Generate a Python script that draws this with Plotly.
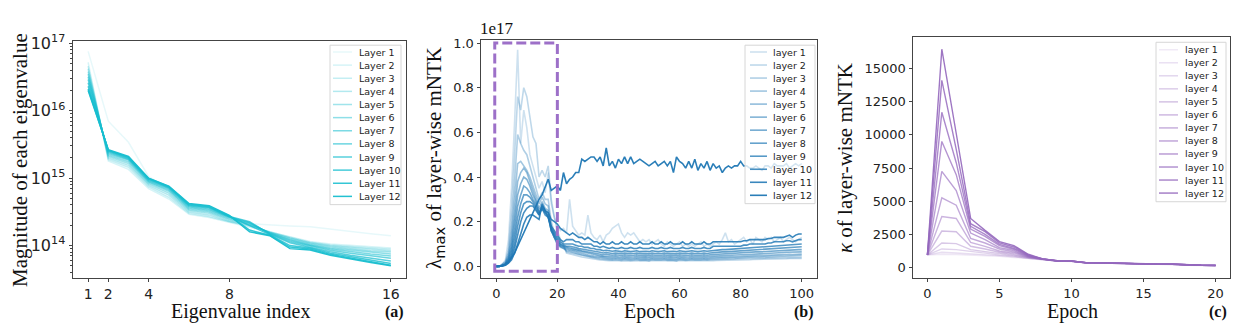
import plotly.graph_objects as go

# page body has a default 8px margin: the figure is sized to fit the window
OFF = 8
W, H = 1242 - OFF, 332 - OFF

# ---------------- data ----------------
layers = [f"Layer {i}" for i in range(1, 13)]
layers_lc = [f"layer {i}" for i in range(1, 13)]

# (a) eigenvalue spectra, index 1..16
eig_index = list(range(1, 17))
eig_L1 = [7.6e16, 7.0e15, 3.4e15, 1.05e15, 7.0e14, 3.8e14, 3.2e14, 2.5e14, 2.1e14, 2.0e14, 1.95e14, 1.9e14, 1.75e14, 1.6e14, 1.5e14, 1.4e14]
eig_L2 = [5.2e16, 1.8e15, 1.35e15, 7.0e14, 4.9e14, 2.9e14, 2.6e14, 2.2e14, 1.9e14, 1.6e14, 1.35e14, 1.15e14, 1.05e14, 1.0e14, 9.6e13, 9.2e13]
eig_L3 = [4.6e16, 1.9e15, 1.45e15, 7.4e14, 5.2e14, 3.0e14, 2.7e14, 2.25e14, 1.95e14, 1.6e14, 1.33e14, 1.12e14, 1.02e14, 9.7e13, 9.2e13, 8.8e13]
eig_L4 = [4.2e16, 2.0e15, 1.55e15, 7.8e14, 5.6e14, 3.15e14, 2.85e14, 2.3e14, 2.0e14, 1.58e14, 1.3e14, 1.1e14, 9.9e13, 9.3e13, 8.8e13, 8.4e13]
eig_L5 = [3.8e16, 2.1e15, 1.65e15, 8.2e14, 6.0e14, 3.3e14, 3.0e14, 2.4e14, 2.05e14, 1.56e14, 1.27e14, 1.07e14, 9.6e13, 8.9e13, 8.4e13, 8.0e13]
eig_L6 = [3.5e16, 2.2e15, 1.75e15, 8.6e14, 6.4e14, 3.45e14, 3.15e14, 2.5e14, 2.1e14, 1.54e14, 1.23e14, 1.04e14, 9.2e13, 8.5e13, 8.0e13, 7.5e13]
eig_L7 = [3.2e16, 2.3e15, 1.85e15, 8.9e14, 6.7e14, 3.6e14, 3.3e14, 2.6e14, 2.15e14, 1.52e14, 1.2e14, 1.01e14, 8.9e13, 8.1e13, 7.5e13, 7.0e13]
eig_L8 = [2.9e16, 2.4e15, 1.9e15, 9.2e14, 7.0e14, 3.75e14, 3.45e14, 2.65e14, 2.2e14, 1.5e14, 1.15e14, 9.8e13, 8.5e13, 7.7e13, 7.0e13, 6.5e13]
eig_L9 = [2.6e16, 2.5e15, 1.95e15, 9.5e14, 7.2e14, 3.9e14, 3.6e14, 2.7e14, 2.25e14, 1.48e14, 1.1e14, 9.5e13, 8.1e13, 7.2e13, 6.5e13, 5.9e13]
eig_L10 = [2.3e16, 2.55e15, 2.0e15, 9.7e14, 7.4e14, 4.0e14, 3.7e14, 2.7e14, 2.0e14, 1.45e14, 1.0e14, 9.2e13, 7.7e13, 6.8e13, 6.0e13, 5.4e13]
eig_L11 = [2.1e16, 2.6e15, 2.05e15, 9.9e14, 7.5e14, 4.1e14, 3.8e14, 2.75e14, 1.7e14, 1.42e14, 9.5e13, 8.9e13, 7.4e13, 6.5e13, 5.7e13, 5.1e13]
eig_L12 = [2.0e16, 2.65e15, 2.1e15, 1.0e15, 7.6e14, 4.2e14, 3.9e14, 2.8e14, 1.6e14, 1.4e14, 9.0e13, 8.6e13, 7.2e13, 6.3e13, 5.6e13, 5.0e13]
eig_all = [eig_L1, eig_L2, eig_L3, eig_L4, eig_L5, eig_L6, eig_L7, eig_L8, eig_L9, eig_L10, eig_L11, eig_L12]

# (b) lambda_max per epoch (units of 1e17), epochs 0..100
lam_L1 = [0, 0, 0.01, 0.03, 0.12, 0.35, 0.65, 0.97, 0.55, 0.70, 0.62, 0.50, 0.45, 0.40, 0.35, 0.38, 0.33, 0.42, 0.28, 0.22, 0.18, 0.16, 0.17,
          0.15, 0.30, 0.18, 0.16, 0.14, 0.15, 0.14, 0.23, 0.15, 0.13, 0.12, 0.14, 0.11, 0.14, 0.15, 0.17, 0.18, 0.19, 0.15, 0.13, 0.15, 0.14, 0.15,
          0.13, 0.11, 0.12, 0.11, 0.12, 0.10, 0.11, 0.12, 0.10, 0.09, 0.11, 0.10, 0.09, 0.10, 0.11, 0.09, 0.10, 0.09, 0.10, 0.09, 0.10, 0.11, 0.09,
          0.10, 0.09, 0.10, 0.11, 0.10, 0.12, 0.15, 0.11, 0.12, 0.10, 0.11, 0.12, 0.13, 0.11, 0.12, 0.10, 0.13, 0.12, 0.11, 0.13, 0.12, 0.13, 0.11,
          0.12, 0.13, 0.11, 0.12, 0.13, 0.12, 0.11, 0.12, 0.13]
lam_L2 = [0, 0, 0.01, 0.02, 0.08, 0.25, 0.50, 0.76, 0.70, 0.80, 0.76, 0.66, 0.58, 0.55, 0.40, 0.43, 0.40, 0.45, 0.30, 0.22, 0.16, 0.12, 0.10,
          0.06, 0.056, 0.052, 0.048, 0.045, 0.042, 0.04, 0.037, 0.035, 0.033, 0.031, 0.029, 0.027, 0.028, 0.026, 0.025, 0.026, 0.025, 0.024, 0.026,
          0.025, 0.024, 0.025, 0.026, 0.024, 0.025, 0.025, 0.023, 0.026, 0.025, 0.024, 0.025, 0.026, 0.024, 0.025, 0.025, 0.023, 0.026, 0.025, 0.024,
          0.025, 0.026, 0.025, 0.024, 0.025, 0.026, 0.025, 0.026, 0.026, 0.027, 0.027, 0.027, 0.028, 0.028, 0.028, 0.029, 0.029, 0.029, 0.03, 0.03,
          0.03, 0.031, 0.031, 0.031, 0.032, 0.032, 0.032, 0.033, 0.033, 0.033, 0.034, 0.034, 0.034, 0.035, 0.034, 0.035, 0.035, 0.035]
lam_L3 = [0, 0, 0.01, 0.02, 0.06, 0.18, 0.38, 0.59, 0.55, 0.52, 0.50, 0.45, 0.40, 0.36, 0.30, 0.33, 0.30, 0.30, 0.20, 0.15, 0.12, 0.10, 0.09,
          0.065, 0.062, 0.058, 0.054, 0.05, 0.047, 0.044, 0.041, 0.039, 0.037, 0.035, 0.033, 0.031, 0.032, 0.03, 0.028, 0.03, 0.028, 0.027, 0.03,
          0.028, 0.027, 0.028, 0.03, 0.027, 0.028, 0.028, 0.026, 0.03, 0.028, 0.027, 0.028, 0.03, 0.027, 0.028, 0.028, 0.026, 0.03, 0.028, 0.027,
          0.028, 0.03, 0.028, 0.027, 0.028, 0.03, 0.028, 0.03, 0.03, 0.031, 0.031, 0.032, 0.032, 0.032, 0.033, 0.033, 0.034, 0.034, 0.034, 0.035,
          0.035, 0.036, 0.036, 0.036, 0.037, 0.037, 0.038, 0.038, 0.038, 0.039, 0.039, 0.039, 0.04, 0.04, 0.039, 0.04, 0.04, 0.04]
lam_L4 = [0, 0, 0.005, 0.015, 0.05, 0.14, 0.30, 0.46, 0.47, 0.45, 0.43, 0.40, 0.36, 0.33, 0.28, 0.31, 0.28, 0.27, 0.18, 0.14, 0.11, 0.09, 0.08,
          0.07, 0.068, 0.065, 0.06, 0.056, 0.052, 0.048, 0.045, 0.043, 0.041, 0.039, 0.037, 0.035, 0.036, 0.034, 0.032, 0.034, 0.032, 0.031, 0.034,
          0.032, 0.031, 0.032, 0.034, 0.031, 0.032, 0.032, 0.03, 0.034, 0.032, 0.031, 0.032, 0.034, 0.031, 0.032, 0.032, 0.03, 0.034, 0.032, 0.031,
          0.032, 0.034, 0.032, 0.031, 0.032, 0.034, 0.032, 0.034, 0.035, 0.035, 0.036, 0.036, 0.037, 0.037, 0.038, 0.038, 0.039, 0.039, 0.04, 0.04,
          0.041, 0.041, 0.042, 0.042, 0.043, 0.043, 0.044, 0.044, 0.045, 0.045, 0.046, 0.046, 0.047, 0.047, 0.046, 0.047, 0.048, 0.048]
lam_L5 = [0, 0, 0.005, 0.012, 0.04, 0.11, 0.24, 0.38, 0.42, 0.44, 0.42, 0.38, 0.34, 0.31, 0.26, 0.29, 0.26, 0.25, 0.17, 0.13, 0.10, 0.085, 0.08,
          0.075, 0.072, 0.07, 0.066, 0.062, 0.058, 0.054, 0.051, 0.048, 0.046, 0.044, 0.042, 0.04, 0.041, 0.039, 0.037, 0.039, 0.037, 0.036, 0.039,
          0.037, 0.036, 0.037, 0.039, 0.036, 0.037, 0.037, 0.035, 0.039, 0.037, 0.036, 0.037, 0.039, 0.036, 0.037, 0.037, 0.035, 0.039, 0.037, 0.036,
          0.037, 0.039, 0.037, 0.036, 0.037, 0.039, 0.037, 0.039, 0.04, 0.04, 0.041, 0.041, 0.042, 0.042, 0.043, 0.043, 0.044, 0.044, 0.045, 0.045,
          0.046, 0.047, 0.047, 0.048, 0.048, 0.049, 0.05, 0.05, 0.051, 0.051, 0.052, 0.052, 0.053, 0.054, 0.053, 0.054, 0.055, 0.055]
lam_L6 = [0, 0, 0.004, 0.01, 0.035, 0.09, 0.20, 0.32, 0.37, 0.40, 0.39, 0.36, 0.32, 0.29, 0.25, 0.27, 0.25, 0.24, 0.16, 0.13, 0.10, 0.09, 0.085,
          0.08, 0.078, 0.075, 0.072, 0.068, 0.064, 0.06, 0.057, 0.055, 0.052, 0.05, 0.048, 0.046, 0.047, 0.045, 0.043, 0.045, 0.043, 0.042, 0.045,
          0.043, 0.042, 0.043, 0.045, 0.042, 0.043, 0.043, 0.041, 0.045, 0.043, 0.042, 0.043, 0.045, 0.042, 0.043, 0.043, 0.041, 0.045, 0.043, 0.042,
          0.043, 0.045, 0.043, 0.042, 0.043, 0.045, 0.043, 0.045, 0.046, 0.047, 0.047, 0.048, 0.048, 0.049, 0.05, 0.05, 0.051, 0.052, 0.052, 0.053,
          0.054, 0.055, 0.056, 0.056, 0.057, 0.058, 0.059, 0.059, 0.06, 0.061, 0.061, 0.062, 0.063, 0.064, 0.063, 0.064, 0.065, 0.065]
lam_L7 = [0, 0, 0.004, 0.01, 0.03, 0.075, 0.16, 0.27, 0.32, 0.36, 0.35, 0.33, 0.30, 0.28, 0.24, 0.26, 0.24, 0.23, 0.16, 0.13, 0.11, 0.095, 0.09,
          0.085, 0.083, 0.08, 0.078, 0.074, 0.07, 0.067, 0.064, 0.062, 0.06, 0.057, 0.055, 0.052, 0.054, 0.052, 0.05, 0.052, 0.05, 0.049, 0.052,
          0.05, 0.049, 0.05, 0.052, 0.049, 0.05, 0.05, 0.048, 0.052, 0.05, 0.049, 0.05, 0.052, 0.049, 0.05, 0.05, 0.048, 0.052, 0.05, 0.049,
          0.05, 0.052, 0.05, 0.049, 0.05, 0.052, 0.05, 0.052, 0.053, 0.054, 0.055, 0.056, 0.056, 0.057, 0.058, 0.058, 0.059, 0.06, 0.06, 0.062,
          0.063, 0.064, 0.065, 0.065, 0.066, 0.067, 0.068, 0.068, 0.069, 0.07, 0.071, 0.072, 0.073, 0.074, 0.073, 0.074, 0.075, 0.075]
lam_L8 = [0, 0, 0.003, 0.008, 0.025, 0.06, 0.13, 0.22, 0.28, 0.32, 0.32, 0.31, 0.29, 0.27, 0.24, 0.26, 0.24, 0.22, 0.16, 0.14, 0.12, 0.10, 0.095,
          0.09, 0.09, 0.088, 0.085, 0.08, 0.078, 0.075, 0.072, 0.07, 0.068, 0.065, 0.063, 0.06, 0.062, 0.06, 0.058, 0.06, 0.058, 0.057, 0.06,
          0.058, 0.057, 0.058, 0.06, 0.057, 0.058, 0.058, 0.056, 0.06, 0.058, 0.057, 0.058, 0.06, 0.057, 0.058, 0.058, 0.056, 0.06, 0.058, 0.057,
          0.058, 0.06, 0.058, 0.057, 0.058, 0.06, 0.058, 0.06, 0.062, 0.063, 0.064, 0.065, 0.065, 0.066, 0.067, 0.068, 0.068, 0.07, 0.07, 0.072,
          0.073, 0.074, 0.075, 0.076, 0.077, 0.078, 0.079, 0.08, 0.081, 0.082, 0.083, 0.084, 0.085, 0.086, 0.085, 0.087, 0.088, 0.088]
lam_L9 = [0, 0, 0.003, 0.007, 0.02, 0.05, 0.10, 0.18, 0.24, 0.28, 0.29, 0.29, 0.28, 0.26, 0.23, 0.26, 0.23, 0.22, 0.17, 0.15, 0.13, 0.11, 0.10,
          0.10, 0.10, 0.10, 0.095, 0.09, 0.09, 0.085, 0.085, 0.08, 0.08, 0.075, 0.075, 0.07, 0.072, 0.07, 0.068, 0.07, 0.068, 0.066, 0.07,
          0.068, 0.066, 0.068, 0.07, 0.066, 0.068, 0.068, 0.066, 0.07, 0.068, 0.066, 0.068, 0.07, 0.066, 0.068, 0.068, 0.066, 0.07, 0.068, 0.066,
          0.068, 0.07, 0.068, 0.066, 0.068, 0.07, 0.068, 0.07, 0.072, 0.074, 0.074, 0.075, 0.075, 0.076, 0.077, 0.078, 0.078, 0.08, 0.08, 0.082,
          0.083, 0.084, 0.085, 0.086, 0.087, 0.088, 0.09, 0.09, 0.092, 0.093, 0.094, 0.095, 0.096, 0.097, 0.096, 0.098, 0.10, 0.10]
lam_L10 = [0, 0, 0.002, 0.006, 0.018, 0.04, 0.08, 0.14, 0.20, 0.24, 0.26, 0.27, 0.27, 0.25, 0.23, 0.27, 0.25, 0.22, 0.18, 0.16, 0.14, 0.12, 0.11,
           0.12, 0.12, 0.12, 0.11, 0.11, 0.10, 0.10, 0.10, 0.10, 0.09, 0.09, 0.085, 0.09, 0.085, 0.08, 0.085, 0.08, 0.08, 0.085, 0.08,
           0.08, 0.085, 0.08, 0.08, 0.085, 0.08, 0.08, 0.08, 0.085, 0.08, 0.08, 0.085, 0.08, 0.08, 0.085, 0.08, 0.08, 0.08, 0.085, 0.08,
           0.08, 0.085, 0.08, 0.08, 0.08, 0.085, 0.08, 0.08, 0.09, 0.09, 0.09, 0.09, 0.09, 0.09, 0.09, 0.09, 0.09, 0.09, 0.095, 0.095,
           0.10, 0.10, 0.10, 0.10, 0.10, 0.10, 0.105, 0.105, 0.11, 0.11, 0.11, 0.11, 0.115, 0.115, 0.11, 0.115, 0.12, 0.12]
lam_L11 = [0, 0, 0.002, 0.005, 0.015, 0.03, 0.06, 0.10, 0.15, 0.19, 0.22, 0.23, 0.23, 0.22, 0.21, 0.28, 0.25, 0.24, 0.21, 0.20, 0.19, 0.17, 0.16,
           0.15, 0.14, 0.15, 0.14, 0.13, 0.13, 0.12, 0.13, 0.12, 0.11, 0.11, 0.10, 0.11, 0.10, 0.10, 0.11, 0.10, 0.10, 0.11, 0.10,
           0.10, 0.11, 0.10, 0.10, 0.11, 0.10, 0.10, 0.10, 0.11, 0.10, 0.10, 0.11, 0.10, 0.10, 0.11, 0.10, 0.10, 0.10, 0.11, 0.10,
           0.10, 0.11, 0.10, 0.10, 0.10, 0.11, 0.10, 0.10, 0.11, 0.11, 0.11, 0.11, 0.11, 0.11, 0.11, 0.11, 0.11, 0.11, 0.115, 0.115,
           0.12, 0.12, 0.12, 0.12, 0.12, 0.12, 0.125, 0.125, 0.13, 0.13, 0.13, 0.13, 0.135, 0.14, 0.13, 0.14, 0.145, 0.145]
lam_L12 = [0, 0, 0.005, 0.01, 0.02, 0.04, 0.06, 0.09, 0.12, 0.15, 0.18, 0.21, 0.24, 0.27, 0.30, 0.32, 0.36, 0.39, 0.34, 0.35, 0.36, 0.34, 0.42,
           0.37, 0.39, 0.40, 0.42, 0.42, 0.48, 0.47, 0.48, 0.49, 0.49, 0.47, 0.49, 0.45, 0.53, 0.45, 0.47, 0.44, 0.48, 0.46, 0.49, 0.46, 0.49,
           0.46, 0.47, 0.48, 0.47, 0.46, 0.45, 0.46, 0.47, 0.45, 0.46, 0.47, 0.45, 0.47, 0.42, 0.49, 0.47, 0.46, 0.44, 0.47, 0.44, 0.48, 0.43,
           0.46, 0.44, 0.47, 0.43, 0.46, 0.44, 0.45, 0.42, 0.44, 0.45, 0.44, 0.45, 0.45, 0.47, 0.45, 0.45, 0.44, 0.44, 0.45, 0.44, 0.43, 0.45,
           0.45, 0.44, 0.46, 0.45, 0.45, 0.45, 0.46, 0.44, 0.45, 0.46, 0.45, 0.46]
lam_all = [lam_L1, lam_L2, lam_L3, lam_L4, lam_L5, lam_L6, lam_L7, lam_L8, lam_L9, lam_L10, lam_L11, lam_L12]
highlight_epochs = [-0.5, 20]
highlight_lam = [-0.022, 1.0]

# (c) kappa per epoch, epochs 0..20
kap_L1 = [950, 1000, 980, 950, 900, 850, 760, 660, 600, 480, 460, 340, 330, 300, 280, 260, 240, 240, 170, 160, 150]
kap_L2 = [950, 1150, 1100, 1050, 980, 900, 800, 680, 605, 485, 465, 345, 335, 305, 282, 262, 242, 242, 172, 162, 152]
kap_L3 = [950, 1400, 1350, 1200, 1080, 950, 860, 700, 610, 490, 470, 350, 338, 308, 284, 264, 244, 244, 174, 163, 153]
kap_L4 = [950, 1850, 1800, 1350, 1200, 1050, 920, 730, 615, 492, 472, 352, 340, 310, 286, 266, 246, 246, 176, 164, 154]
kap_L5 = [950, 2750, 2700, 1600, 1400, 1150, 1000, 760, 620, 495, 475, 355, 343, 312, 288, 268, 248, 248, 178, 165, 155]
kap_L6 = [950, 3850, 3700, 1900, 1600, 1250, 1100, 790, 625, 498, 478, 358, 345, 314, 290, 270, 250, 250, 180, 166, 156]
kap_L7 = [950, 5250, 4700, 2200, 1850, 1400, 1180, 820, 630, 500, 480, 360, 348, 316, 292, 272, 252, 252, 182, 167, 157]
kap_L8 = [950, 7250, 5800, 2600, 2100, 1500, 1280, 850, 635, 502, 483, 362, 350, 318, 294, 274, 254, 254, 184, 168, 158]
kap_L9 = [950, 9500, 7000, 2900, 2350, 1650, 1380, 880, 640, 505, 486, 365, 352, 320, 296, 276, 256, 256, 186, 169, 159]
kap_L10 = [950, 11700, 7900, 3100, 2500, 1750, 1450, 920, 645, 508, 490, 368, 355, 322, 298, 278, 258, 258, 188, 170, 160]
kap_L11 = [950, 14100, 8900, 3300, 2700, 1850, 1550, 950, 650, 510, 493, 370, 358, 324, 300, 280, 260, 260, 190, 171, 161]
kap_L12 = [950, 16450, 10100, 3700, 2800, 1950, 1650, 1000, 655, 512, 496, 372, 360, 326, 302, 282, 262, 262, 192, 172, 162]
kap_all = [kap_L1, kap_L2, kap_L3, kap_L4, kap_L5, kap_L6, kap_L7, kap_L8, kap_L9, kap_L10, kap_L11, kap_L12]

# ---------------- styling helpers ----------------
def P(px):
    return (px - OFF) / W

def Q(py):
    return 1 - (py - OFF) / H

def rgba(rgb, a):
    return f"rgba({rgb[0]},{rgb[1]},{rgb[2]},{a:.3f})"

CYAN = (23, 190, 207)
BLUE = (31, 119, 180)
PURP = (148, 103, 189)

def alphas(lo, hi):
    return [lo + (hi - lo) * i / 11 for i in range(12)]

a_alpha = alphas(0.10, 0.95)
b_alpha = alphas(0.22, 0.95)
c_alpha = alphas(0.15, 0.90)

fig = go.Figure()

for i, vals in enumerate(eig_all):
    fig.add_trace(go.Scatter(x=eig_index, y=vals, mode="lines", name=layers[i],
                             line=dict(color=rgba(CYAN, a_alpha[i]), width=1.5),
                             xaxis="x", yaxis="y", showlegend=False))
for i, vals in enumerate(lam_all):
    fig.add_trace(go.Scatter(x=list(range(len(vals))), y=vals, mode="lines", name=layers_lc[i],
                             line=dict(color=rgba(BLUE, b_alpha[i]), width=1.6),
                             xaxis="x2", yaxis="y2", showlegend=False))
for i, vals in enumerate(kap_all):
    fig.add_trace(go.Scatter(x=list(range(len(vals))), y=vals, mode="lines", name=layers_lc[i],
                             line=dict(color=rgba(PURP, c_alpha[i]), width=1.4),
                             xaxis="x3", yaxis="y3", showlegend=False))

TICKFONT = dict(family="DejaVu Sans", size=13, color="#222")
common = dict(showline=True, linecolor="#444", linewidth=1, mirror=True, ticks="outside",
              ticklen=3.5, tickcolor="#444", showgrid=False, zeroline=False)

minor_log = [k * 10 ** e for e in range(13, 17) for k in range(2, 10)]

fig.update_layout(
    width=W, height=H, autosize=False,
    margin=dict(l=0, r=0, t=0, b=0),
    paper_bgcolor="white", plot_bgcolor="white",
    xaxis=dict(domain=[P(73), P(406)], anchor="y", range=[0.25, 16.75],
               tickvals=[1, 2, 4, 8, 16], tickfont=dict(family="DejaVu Sans", size=14, color="#222"), **common),
    yaxis=dict(domain=[Q(276), Q(33)], anchor="x", type="log", range=[13.525, 17.03],
               tickvals=[1e14, 1e15, 1e16, 1e17],
               ticktext=["10<sup>14</sup>", "10<sup>15</sup>", "10<sup>16</sup>", "10<sup>17</sup>"],
               tickfont=dict(family="DejaVu Sans", size=16, color="#222"),
               minor=dict(ticks="outside", ticklen=2, tickcolor="#444", tickvals=minor_log),
               **common),
    xaxis2=dict(domain=[P(481), P(817)], anchor="y2", range=[-5, 105],
                tickvals=[0, 20, 40, 60, 80, 100], tickfont=TICKFONT, **common),
    yaxis2=dict(domain=[Q(276), Q(32)], anchor="x2", range=[-0.05, 1.012],
                tickvals=[0, 0.2, 0.4, 0.6, 0.8, 1.0],
                ticktext=["0.0", "0.2", "0.4", "0.6", "0.8", "1.0"], tickfont=TICKFONT, **common),
    xaxis3=dict(domain=[P(913), P(1230)], anchor="y3", range=[-1, 21],
                tickvals=[0, 5, 10, 15, 20], tickfont=TICKFONT, **common),
    yaxis3=dict(domain=[Q(276), Q(29)], anchor="x3", range=[-755, 17340],
                tickvals=[0, 2500, 5000, 7500, 10000, 12500, 15000],
                ticktext=["0", "2500", "5000", "7500", "10000", "12500", "15000"], tickfont=TICKFONT, **common),
)

shapes = []
annotations = []

# highlight box in panel (b)
shapes.append(dict(type="rect", xref="x2", yref="y2",
                   x0=highlight_epochs[0], x1=highlight_epochs[1],
                   y0=highlight_lam[0], y1=highlight_lam[1],
                   line=dict(color="#9d70c8", width=3, dash="10px,4px"),
                   fillcolor="rgba(0,0,0,0)", layer="above"))

SERIF = "Liberation Serif"

def add_text(x, y, text, size, family=SERIF, angle=0, color="#111", xanchor="center"):
    annotations.append(dict(x=P(x), y=Q(y), xref="paper", yref="paper", text=text,
                            showarrow=False, textangle=angle, xanchor=xanchor, yanchor="middle",
                            font=dict(family=family, size=size, color=color)))

# axis titles
add_text(20, 155, "Magnitude of each eigenvalue", 21, angle=-90)
add_text(240, 311, "Eigenvalue index", 20)
add_text(394, 311, "<b>(a)</b>", 16)

add_text(435, 153, 'λ<sub><span style="font-family:DejaVu Sans">max</span></sub> of layer-wise mNTK', 21, angle=-90)
add_text(649, 311, "Epoch", 20)
add_text(804, 311, "<b>(b)</b>", 16)
add_text(497, 20, "1e17", 17)

add_text(845, 153, "<i>κ</i> of layer-wise mNTK", 21, angle=-90)
add_text(1072, 311, "Epoch", 20)
add_text(1218, 311, "<b>(c)</b>", 16)

# legends (drawn as boxes with sample lines and labels)
def legend(box, first_y, step, line_x, text_x, labels, rgb, alph, width):
    x0, y0, x1, y1 = box
    shapes.append(dict(type="rect", xref="paper", yref="paper",
                       x0=P(x0), x1=P(x1), y0=Q(y1), y1=Q(y0),
                       line=dict(color="#d6d6d6", width=1),
                       fillcolor="rgba(255,255,255,0.8)", layer="above"))
    for i, lab in enumerate(labels):
        yy = first_y + step * i
        shapes.append(dict(type="line", xref="paper", yref="paper",
                           x0=P(line_x[0]), x1=P(line_x[1]), y0=Q(yy), y1=Q(yy),
                           line=dict(color=rgba(rgb, alph[i]), width=width), layer="above"))
        add_text(text_x, yy, lab, 9.5, family="DejaVu Sans", color="#222", xanchor="left")

legend((330, 37, 401, 201), 44, 13.5, (333, 352), 357, layers, CYAN, a_alpha, 1.5)
legend((745, 37, 815, 200), 44, 13.4, (750, 767), 771, layers_lc, BLUE, b_alpha, 1.6)
legend((1156, 34, 1226, 198), 41.7, 13.4, (1159, 1178), 1183, layers_lc, PURP, c_alpha, 1.4)

fig.update_layout(shapes=shapes, annotations=annotations)

fig.write_html("out.html")
